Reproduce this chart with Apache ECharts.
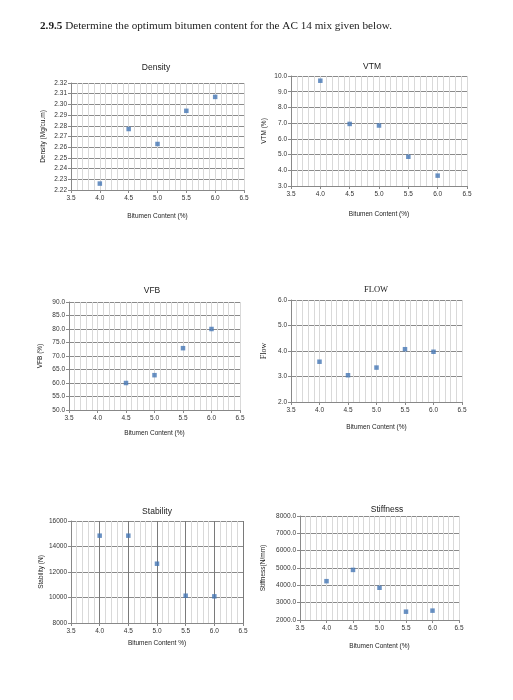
<!DOCTYPE html>
<html>
<head>
<meta charset="utf-8">
<script src="https://cdn.jsdelivr.net/npm/echarts@6/dist/echarts.min.js"></script>
<style>
html,body{margin:0;padding:0;background:#fff;}
#c{width:513px;height:700px;}
</style>
</head>
<body>
<div id="c"></div>
<script>
const bitumen = [4.0, 4.5, 5.0, 5.5, 6.0];
const density = [2.226, 2.277, 2.263, 2.294, 2.307];
const vtm = [9.7, 6.95, 6.85, 4.86, 3.66];
const vfbBitumen = [4.5, 5.0, 5.5, 6.0];
const vfb = [60.0, 62.9, 72.9, 80.0];
const flow = [3.58, 3.05, 3.35, 4.07, 3.97];
const stability = [14850, 14850, 12650, 10140, 10090];
const stiffness = [4240, 4890, 3860, 2480, 2540];
const xTicks = { min: 3.5, max: 6.5, interval: 0.5 };

const SANS = '"Liberation Sans", Arial, sans-serif';
const SERIF = '"Liberation Serif", "DejaVu Serif", serif';

const panels = [
  { title: 'Density', tx: 151, ty: 58, tfont: SANS, grid: {left: 71, top: 83, width: 173, height: 107},
    yname: 'Density (Mg/cu.m)', yfont: SANS, ygap: 24, ymin: 2.22, ymax: 2.32, yint: 0.01, dec: 2,
    xname: 'Bitumen Content (%)', xgap: 23, xs: bitumen, ys: density, darkX: false },
  { title: 'VTM', tx: 367, ty: 57, tfont: SANS, grid: {left: 291, top: 76, width: 176, height: 110},
    yname: 'VTM (%)', yfont: SANS, ygap: 23, ymin: 3, ymax: 10, yint: 1, dec: 1,
    xname: 'Bitumen Content (%)', xgap: 25, xs: bitumen, ys: vtm, darkX: false },
  { title: 'VFB', tx: 147, ty: 281, tfont: SANS, grid: {left: 69, top: 302, width: 171, height: 108},
    yname: 'VFB (%)', yfont: SANS, ygap: 25, ymin: 50, ymax: 90, yint: 5, dec: 1,
    xname: 'Bitumen Content (%)', xgap: 20, xs: vfbBitumen, ys: vfb, darkX: false },
  { title: 'FLOW', tx: 371, ty: 280, tfont: SERIF, grid: {left: 291, top: 300, width: 171, height: 102},
    yname: 'Flow', yfont: SERIF, ygap: 23, ymin: 2, ymax: 6, yint: 1, dec: 1,
    xname: 'Bitumen Content (%)', xgap: 22, xs: bitumen, ys: flow, darkX: false },
  { title: 'Stability', tx: 152, ty: 502, tfont: SANS, grid: {left: 71, top: 521, width: 172, height: 102},
    yname: 'Stability (N)', yfont: SANS, ygap: 25, ymin: 8000, ymax: 16000, yint: 2000, dec: 0,
    xname: 'Bitumen Content %)', xgap: 17, xs: bitumen, ys: stability, darkX: true },
  { title: 'Stiffness', tx: 382, ty: 500, tfont: SANS, grid: {left: 300, top: 516, width: 159, height: 104},
    yname: 'Stiffness(N/mm)', yfont: SANS, ygap: 33, ymin: 2000, ymax: 8000, yint: 1000, dec: 1,
    xname: 'Bitumen Content (%)', xgap: 23, xs: bitumen, ys: stiffness, darkX: false }
];

const titles = [{
  text: '{b|2.9.5} Determine the optimum bitumen content for the AC 14 mix given below.',
  left: 35, top: 16,
  textStyle: { fontFamily: SERIF, fontSize: 11.2, fontWeight: 'normal', color: '#1a1a1a',
    rich: { b: { fontFamily: SERIF, fontSize: 11.2, fontWeight: 'bold', color: '#1a1a1a' } } }
}];
const grids = [], xAxes = [], yAxes = [], series = [];
const lightC = '#d9d9d9', darkC = '#8a8a8a';

panels.forEach((p, i) => {
  titles.push({ text: p.title, left: p.tx, top: p.ty, textAlign: 'center',
    textStyle: { fontFamily: p.tfont, fontSize: 8.5, fontWeight: 'normal', color: '#1a1a1a' } });
  grids.push(Object.assign({ containLabel: false }, p.grid));
  xAxes.push({
    type: 'value', gridIndex: i, min: xTicks.min, max: xTicks.max, interval: xTicks.interval,
    name: p.xname, nameLocation: 'middle', nameGap: p.xgap,
    nameTextStyle: { fontFamily: SANS, fontSize: 6.5, color: '#222' },
    axisLine: { show: true, lineStyle: { color: '#888', width: 1 } },
    axisTick: { show: true, length: 3, lineStyle: { color: '#888' } },
    axisLabel: { fontFamily: SANS, fontSize: 6.5, color: '#333', margin: 5,
      formatter: v => v.toFixed(1) },
    splitLine: { show: true, lineStyle: { color: p.darkX ? '#7a7a7a' : lightC, width: 1 } },
    minorTick: { show: false, splitNumber: 5 },
    minorSplitLine: { show: true, lineStyle: { color: lightC, width: 1 } }
  });
  yAxes.push({
    type: 'value', gridIndex: i, min: p.ymin, max: p.ymax, interval: p.yint,
    name: p.yname, nameLocation: 'middle', nameGap: p.ygap,
    nameTextStyle: { fontFamily: p.yfont, fontSize: p.yfont === SERIF ? 8 : 6.5, color: '#222' },
    axisLine: { show: true, lineStyle: { color: '#888', width: 1 } },
    axisTick: { show: true, length: 3, lineStyle: { color: '#888' } },
    axisLabel: { fontFamily: SANS, fontSize: 6.5, color: '#333', margin: 4,
      formatter: v => v.toFixed(p.dec) },
    splitLine: { show: true, lineStyle: { color: darkC, width: 1 } }
  });
  series.push({
    type: 'scatter', xAxisIndex: i, yAxisIndex: i,
    data: p.xs.map((x, k) => [x, p.ys[k]]),
    symbol: 'rect', symbolSize: 4.5,
    itemStyle: { color: '#4475b4' },
    emphasis: { disabled: true }
  });
});

const chart = echarts.init(document.getElementById('c'), null, { renderer: 'canvas' });
chart.setOption({
  animation: false,
  backgroundColor: '#fff',
  title: titles,
  grid: grids,
  xAxis: xAxes,
  yAxis: yAxes,
  series: series
});
</script>
</body>
</html>
